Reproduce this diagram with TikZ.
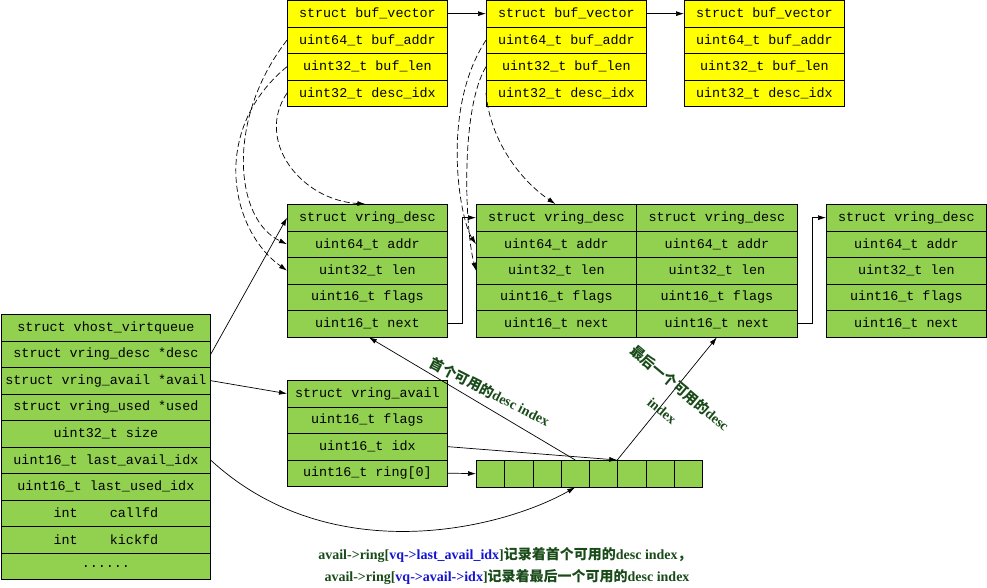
\documentclass[tikz,border=0pt]{standalone}
\usepackage{fontspec}
\setmainfont{Liberation Serif}
\setmonofont{Liberation Mono}
\newfontfamily\cjk{Noto Sans CJK SC}
\usetikzlibrary{arrows.meta}
\definecolor{yel}{RGB}{255,255,0}
\definecolor{grn}{RGB}{146,208,80}
\definecolor{dgrn}{RGB}{25,75,25}
\definecolor{dblue}{RGB}{20,20,210}
\newcommand\sixdots{......}
\tikzset{
 cell/.style={draw, line width=0.8pt, inner sep=0pt, minimum height=26.5pt, font=\ttfamily\fontsize{13.4}{14}\selectfont},
 arr/.style={-{Latex[length=8pt,width=5pt]}, line width=0.7pt},
 darr/.style={arr, dash pattern=on 6pt off 3pt},
 lbl/.style={font=\bfseries\fontsize{14}{15}\selectfont, text=dgrn, inner sep=0pt}
}
\newcommand\structbox[6]{%
 \foreach \t [count=\i] in {#6} {
  \node[cell, fill=#5, minimum width=#4, anchor=north west] (#1\i) at (#2, {#3+(\i-1)*26.5}) {\t};
 }}
\begin{document}
\begin{tikzpicture}[x=1pt,y=-1pt]
\useasboundingbox (0,0) rectangle (987,587);
\structbox{bva}{287}{0}{160pt}{yel}{struct buf\_vector,uint64\_t buf\_addr,uint32\_t buf\_len,uint32\_t desc\_idx}
\structbox{bvb}{486}{0}{160pt}{yel}{struct buf\_vector,uint64\_t buf\_addr,uint32\_t buf\_len,uint32\_t desc\_idx}
\structbox{bvc}{684}{0}{160pt}{yel}{struct buf\_vector,uint64\_t buf\_addr,uint32\_t buf\_len,uint32\_t desc\_idx}
\structbox{da}{287}{204}{160pt}{grn}{struct vring\_desc,uint64\_t addr,uint32\_t len,uint16\_t flags,uint16\_t next}
\structbox{db}{476}{204}{160pt}{grn}{struct vring\_desc,uint64\_t addr,uint32\_t len,uint16\_t flags,uint16\_t next}
\structbox{dc}{636}{204}{161pt}{grn}{struct vring\_desc,uint64\_t addr,uint32\_t len,uint16\_t flags,uint16\_t next}
\structbox{dd}{826}{204}{160pt}{grn}{struct vring\_desc,uint64\_t addr,uint32\_t len,uint16\_t flags,uint16\_t next}
\structbox{vq}{1}{314}{209pt}{grn}{struct vhost\_virtqueue,struct vring\_desc *desc,struct vring\_avail *avail,struct vring\_used *used,uint32\_t size,uint16\_t last\_avail\_idx,uint16\_t last\_used\_idx,int\hspace{2.4em}callfd,int\hspace{2.4em}kickfd,\sixdots}
\structbox{av}{287}{380}{160pt}{grn}{struct vring\_avail,uint16\_t flags,uint16\_t idx,uint16\_t ring[0]}
\foreach \i in {1,2,3,4,5,6,7,8} {
 \node[cell, fill=grn, minimum width=28.25pt, anchor=north west] (r\i) at ({476+(\i-1)*28.25},460) {};
}
% chains
\draw[arr] (bva1.east) -- (bvb1.west);
\draw[arr] (bvb1.east) -- (bvc1.west);
\draw[arr] (da5.east) -- ++(15,0) |- (db1.west);
\draw[arr] (dc5.east) -- ++(15,0) |- (dd1.west);
% dashed
\draw[darr] (bva2.west) .. controls (225,120) and (235,220) .. (da2.west);
\draw[darr] (bva3.west) .. controls (210,130) and (230,230) .. (da3.west);
\draw[darr] (bva4.west) .. controls (255,140) and (300,200) .. ([xshift=-2pt]da1.north);
\draw[darr] (bvb2.west) .. controls (440,110) and (460,220) .. (db2.west);
\draw[darr] (bvb3.west) .. controls (460,110) and (465,230) .. (db3.west);
\draw[darr] (bvb4.west) .. controls (490,140) and (520,180) .. ([xshift=-1pt]db1.north);
% vq links
\draw[arr] (vq2.east) -- (da1.west);
\draw[arr] (vq3.east) -- (av1.west);
\draw[arr] (av3.east) -- (r6.north west);
\draw[arr] (av4.east) -- (r1.west);
\draw[arr] (vq6.east) .. controls (330,570) and (500,530) .. (r4.south);
\draw[arr] (r4.north) -- ([xshift=-79pt]da5.south east);
\draw[arr] (r6.north west) -- (dc5.south);
% labels
\node[lbl, rotate=-27] (l1) at (490,392) {{\cjk\bfseries 首个可用的}desc index};
\node[lbl, rotate=-40] (l2) at (680,388) {{\cjk\bfseries 最后一个可用的}desc};
\node[lbl, rotate=-40] (l3) at (662,411) {index};
\node[lbl] (b1) at (505,555) {avail->ring[\textcolor{dblue}{vq->last\_avail\_idx}]{\cjk\bfseries 记录着首个可用的}desc index{\cjk\bfseries ，}};
\node[lbl] (b2) at (507,577) {avail->ring[\textcolor{dblue}{vq->avail->idx}]{\cjk\bfseries 记录着最后一个可用的}desc index};
\end{tikzpicture}
\end{document}
